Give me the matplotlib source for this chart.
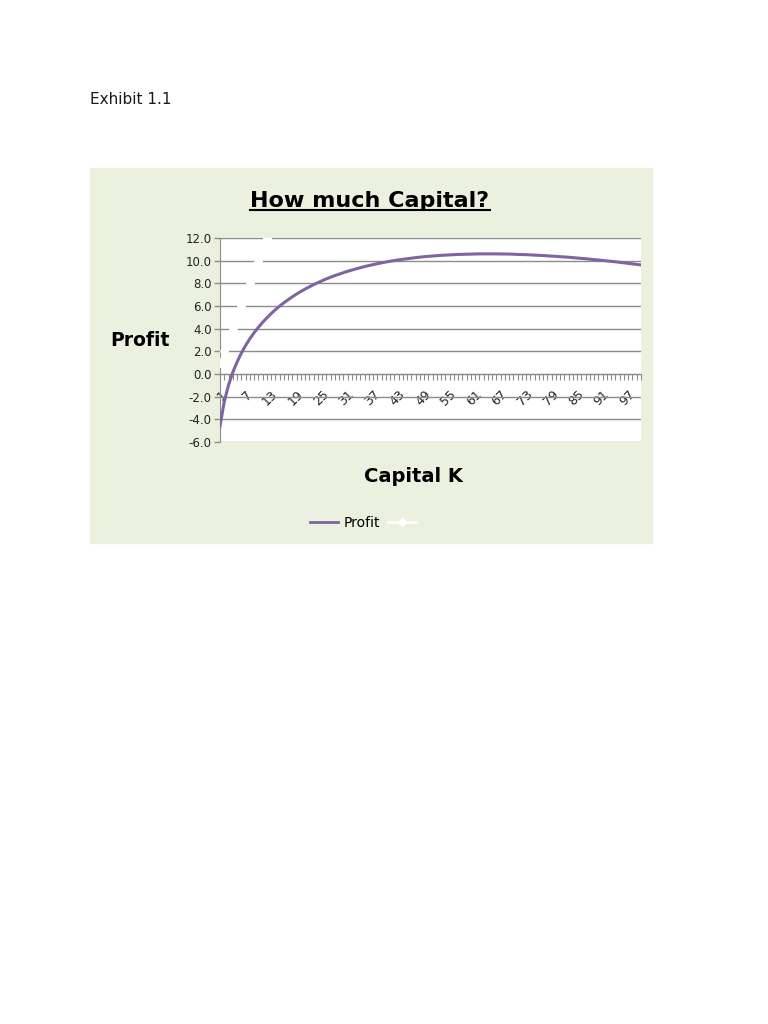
import matplotlib
matplotlib.use("Agg")
import matplotlib.pyplot as plt
from matplotlib.patches import Rectangle
from matplotlib.lines import Line2D

# ---------------------------------------------------------------- data
capital = list(range(1, 101))
profit = [-4.59, -2.44, -0.98, 0.14, 1.05, 1.83, 2.50, 3.10, 3.63, 4.11,
          4.55, 4.95, 5.32, 5.67, 5.98, 6.28, 6.55, 6.81, 7.05, 7.28,
          7.49, 7.69, 7.88, 8.06, 8.23, 8.39, 8.54, 8.68, 8.81, 8.94,
          9.06, 9.17, 9.28, 9.38, 9.48, 9.57, 9.65, 9.73, 9.81, 9.88,
          9.95, 10.01, 10.07, 10.12, 10.17, 10.22, 10.27, 10.31, 10.35, 10.38,
          10.41, 10.44, 10.47, 10.49, 10.51, 10.53, 10.55, 10.56, 10.57, 10.58,
          10.59, 10.60, 10.60, 10.60, 10.60, 10.60, 10.59, 10.59, 10.58, 10.57,
          10.55, 10.54, 10.53, 10.51, 10.49, 10.47, 10.45, 10.43, 10.40, 10.38,
          10.35, 10.33, 10.30, 10.27, 10.23, 10.20, 10.17, 10.13, 10.09, 10.06,
          10.02, 9.98, 9.94, 9.90, 9.85, 9.81, 9.76, 9.72, 9.67, 9.62]
# second (white) series: equals K, runs off the top of the axis
white_x = [1, 2, 3, 4, 5, 6, 7, 8, 9, 10, 11, 12, 13]
white_y = [1, 2, 3, 4, 5, 6, 7, 8, 9, 10, 11, 12, 13]

y_ticks = [-6, -4, -2, 0, 2, 4, 6, 8, 10, 12]

purple = "#8064A2"
green_bg = "#EBF1DE"
grid_col = "#8C8C8C"

W, H = 768, 1024
fig = plt.figure(figsize=(W / 100, H / 100), dpi=100)

# chart area background
fig.patches.append(Rectangle((90 / W, 1 - 543 / H), 562 / W, 375 / H,
                             transform=fig.transFigure, color=green_bg, zorder=-5))

fig.text(90 / W, 1 - 100 / H, "Exhibit 1.1", fontsize=11, color="#1a1a1a",
         ha="left", va="center")

ax = fig.add_axes([220 / W, 1 - 442 / H, 421 / W, 204 / H])
ax.set_zorder(2)
ax.set_facecolor("white")

for s in ["top", "right"]:
    ax.spines[s].set_visible(False)
ax.spines["left"].set_color(grid_col)
ax.spines["bottom"].set_color(grid_col)
ax.spines["bottom"].set_position(("data", 0))

ax.plot(white_x, white_y, color="white", lw=1.8, marker="D", ms=4,
        zorder=3, clip_on=True)
ax.plot(capital, profit, color=purple, lw=2.2, zorder=4)

ax.set_xlim(1, 100)
ax.set_ylim(-6, 12)
ax.set_yticks(y_ticks)
ax.set_yticklabels([f"{v:.1f}" for v in y_ticks], fontsize=8.5, color="#222222")
ax.yaxis.grid(True, color=grid_col, lw=1.0)
ax.set_axisbelow(True)

ax.set_xticks(capital)
ax.set_xticklabels([str(k) if (k - 1) % 6 == 0 else "" for k in capital],
                   rotation=45, ha="right", va="top", rotation_mode="anchor",
                   fontsize=9, color="#222222")
ax.tick_params(axis="x", length=4, width=0.8, color=grid_col, pad=6)
ax.tick_params(axis="y", length=4, width=1.0, color=grid_col, pad=2)

# titles
title = fig.text(370 / W, 1 - 201 / H, "How much Capital?", fontsize=16,
                 fontweight="bold", ha="center", va="center")
fig.text(140 / W, 1 - 340 / H, "Profit", fontsize=13.5, fontweight="bold",
         ha="center", va="center")
fig.text(413 / W, 1 - 477 / H, "Capital K", fontsize=14, fontweight="bold",
         ha="center", va="center")

# underline for the title
fig.canvas.draw()
bb = title.get_window_extent(renderer=fig.canvas.get_renderer())
uy = (bb.y0 + 1) / H
fig.add_artist(Line2D([bb.x0 / W, bb.x1 / W], [uy, uy], color="black",
                      lw=1.5, transform=fig.transFigure))

handles = [Line2D([], [], color=purple, lw=2.0),
           Line2D([], [], color="white", lw=1.8, marker="D", ms=4)]
fig.legend(handles, ["Profit", ""], loc="center", ncol=2, frameon=False,
           bbox_to_anchor=(366 / W, 1 - 523 / H), fontsize=10,
           handlelength=2.0, columnspacing=0.6, handletextpad=0.4)

fig.savefig("out.png", dpi=100)
